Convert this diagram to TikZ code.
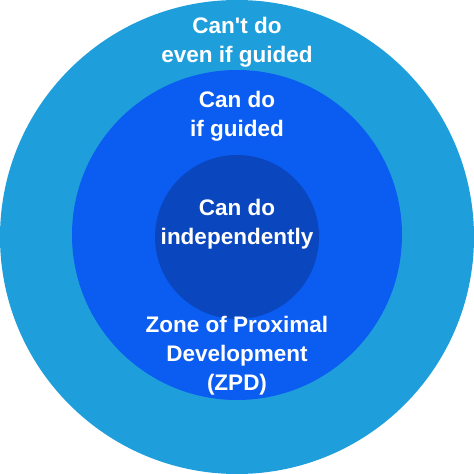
\documentclass[tikz,border=0pt]{standalone}
\usepackage{fontspec}
\setmainfont{Liberation Sans}
\definecolor{outerblue}{HTML}{1E9FDC}
\definecolor{midblue}{HTML}{0B5CF0}
\definecolor{coreblue}{HTML}{0A46BE}
\begin{document}
\begin{tikzpicture}[x=0.025cm,y=0.025cm,
  zone/.style={text=white,font=\bfseries\fontsize{16}{20.5}\selectfont,align=center}]
\useasboundingbox (-237,-237) rectangle (237,237);
\coordinate (O) at (0,0);
\fill[outerblue] (O) circle (237);
\fill[midblue] (0,2) circle (165);
\fill[coreblue] (O) circle (82);
\node[zone] (cant) at (0,195) {Can\textquotesingle t do\\even if guided};
\node[zone] (guided) at (0,121) {Can do\\if guided};
\node[zone] (indep) at (0,13) {Can do\\independently};
\node[zone] (zpd) at (0,-119) {Zone of Proximal\\Development\\(ZPD)};
\end{tikzpicture}
\end{document}
